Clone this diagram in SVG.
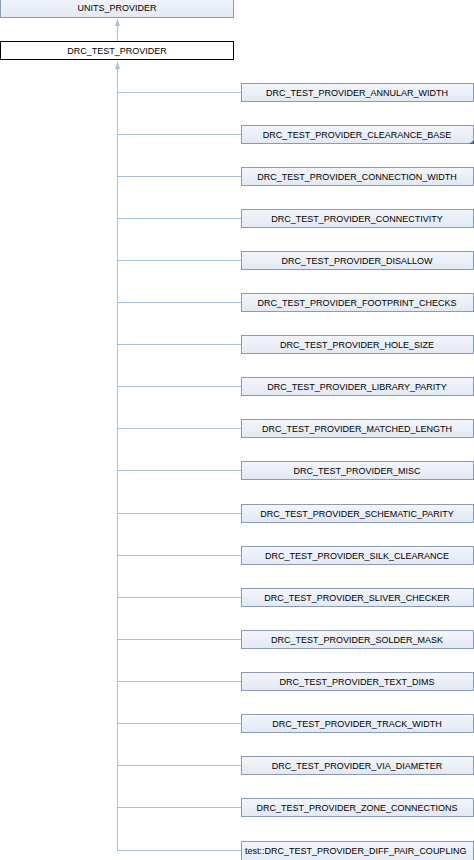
<svg xmlns="http://www.w3.org/2000/svg" width="474" height="860" viewBox="0 0 474 860">
<defs>
<linearGradient id="g" x1="0" y1="0" x2="0" y2="1"><stop offset="0" stop-color="#f3f6fb"/><stop offset="1" stop-color="#e2e8f3"/></linearGradient>
<marker id="ah" markerWidth="8" markerHeight="8" refX="7" refY="4" orient="auto" markerUnits="userSpaceOnUse"><path d="M0,1.5 L7,4 L0,6.5 Z" fill="#a3c0dc"/></marker>
<style>
.n{fill:url(#g);stroke:#8a9ab8;stroke-width:1}
.t{font-family:"Liberation Sans",Arial,sans-serif;font-size:9px;fill:#000;text-anchor:middle}
.e{stroke:#a3c0dc;stroke-width:1;fill:none}
</style>
</defs>
<rect width="474" height="860" fill="#fff"/>
<g id="edges">
<path class="e" d="M117.5,41 V19" marker-end="url(#ah)"/>
<path class="e" d="M117.5,851 V62" marker-end="url(#ah)"/>
<path class="e" d="M117.5,92.5 H241"/>
<path class="e" d="M117.5,134.5 H241"/>
<path class="e" d="M117.5,176.5 H241"/>
<path class="e" d="M117.5,218.5 H241"/>
<path class="e" d="M117.5,260.5 H241"/>
<path class="e" d="M117.5,302.5 H241"/>
<path class="e" d="M117.5,344.5 H241"/>
<path class="e" d="M117.5,386.5 H241"/>
<path class="e" d="M117.5,428.5 H241"/>
<path class="e" d="M117.5,470.5 H241"/>
<path class="e" d="M117.5,513.5 H241"/>
<path class="e" d="M117.5,555.5 H241"/>
<path class="e" d="M117.5,597.5 H241"/>
<path class="e" d="M117.5,639.5 H241"/>
<path class="e" d="M117.5,681.5 H241"/>
<path class="e" d="M117.5,723.5 H241"/>
<path class="e" d="M117.5,765.5 H241"/>
<path class="e" d="M117.5,807.5 H241"/>
<path class="e" d="M117.5,850.5 H241"/>
</g>
<g id="units_provider"><rect class="n" x="0.5" y="-3.5" width="233" height="21"/><text class="t" x="117" y="11">UNITS_PROVIDER</text></g>
<g id="drc_test_provider"><rect x="0.5" y="41.5" width="233" height="18" fill="#fff" stroke="#000"/><text class="t" x="117" y="54">DRC_TEST_PROVIDER</text></g>
<g id="annular_width"><rect class="n" x="241.5" y="83.5" width="232" height="18"/><text class="t" x="357" y="96">DRC_TEST_PROVIDER_ANNULAR_WIDTH</text></g>
<g id="clearance_base"><rect class="n" x="241.5" y="125.5" width="232" height="18"/><path d="M474,140 L474,144 L469,144 Z" fill="#4d6a9a"/><text class="t" x="357" y="138">DRC_TEST_PROVIDER_CLEARANCE_BASE</text></g>
<g id="connection_width"><rect class="n" x="241.5" y="167.5" width="232" height="18"/><text class="t" x="357" y="180">DRC_TEST_PROVIDER_CONNECTION_WIDTH</text></g>
<g id="connectivity"><rect class="n" x="241.5" y="209.5" width="232" height="18"/><text class="t" x="357" y="222">DRC_TEST_PROVIDER_CONNECTIVITY</text></g>
<g id="disallow"><rect class="n" x="241.5" y="251.5" width="232" height="18"/><text class="t" x="357" y="264">DRC_TEST_PROVIDER_DISALLOW</text></g>
<g id="footprint_checks"><rect class="n" x="241.5" y="293.5" width="232" height="18"/><text class="t" x="357" y="306">DRC_TEST_PROVIDER_FOOTPRINT_CHECKS</text></g>
<g id="hole_size"><rect class="n" x="241.5" y="335.5" width="232" height="18"/><text class="t" x="357" y="348">DRC_TEST_PROVIDER_HOLE_SIZE</text></g>
<g id="library_parity"><rect class="n" x="241.5" y="377.5" width="232" height="18"/><text class="t" x="357" y="390">DRC_TEST_PROVIDER_LIBRARY_PARITY</text></g>
<g id="matched_length"><rect class="n" x="241.5" y="419.5" width="232" height="18"/><text class="t" x="357" y="432">DRC_TEST_PROVIDER_MATCHED_LENGTH</text></g>
<g id="misc"><rect class="n" x="241.5" y="461.5" width="232" height="18"/><text class="t" x="357" y="474">DRC_TEST_PROVIDER_MISC</text></g>
<g id="schematic_parity"><rect class="n" x="241.5" y="504.5" width="232" height="18"/><text class="t" x="357" y="517">DRC_TEST_PROVIDER_SCHEMATIC_PARITY</text></g>
<g id="silk_clearance"><rect class="n" x="241.5" y="546.5" width="232" height="18"/><text class="t" x="357" y="559">DRC_TEST_PROVIDER_SILK_CLEARANCE</text></g>
<g id="sliver_checker"><rect class="n" x="241.5" y="588.5" width="232" height="18"/><text class="t" x="357" y="601">DRC_TEST_PROVIDER_SLIVER_CHECKER</text></g>
<g id="solder_mask"><rect class="n" x="241.5" y="630.5" width="232" height="18"/><text class="t" x="357" y="643">DRC_TEST_PROVIDER_SOLDER_MASK</text></g>
<g id="text_dims"><rect class="n" x="241.5" y="672.5" width="232" height="18"/><text class="t" x="357" y="685">DRC_TEST_PROVIDER_TEXT_DIMS</text></g>
<g id="track_width"><rect class="n" x="241.5" y="714.5" width="232" height="18"/><text class="t" x="357" y="727">DRC_TEST_PROVIDER_TRACK_WIDTH</text></g>
<g id="via_diameter"><rect class="n" x="241.5" y="756.5" width="232" height="18"/><text class="t" x="357" y="769">DRC_TEST_PROVIDER_VIA_DIAMETER</text></g>
<g id="zone_connections"><rect class="n" x="241.5" y="798.5" width="232" height="18"/><text class="t" x="357" y="811">DRC_TEST_PROVIDER_ZONE_CONNECTIONS</text></g>
<g id="diff_pair_coupling"><rect class="n" x="241.5" y="841.5" width="232" height="22"/><text class="t" x="245" y="854" style="text-anchor:start">test::DRC_TEST_PROVIDER_DIFF_PAIR_COUPLING</text></g>
</svg>
